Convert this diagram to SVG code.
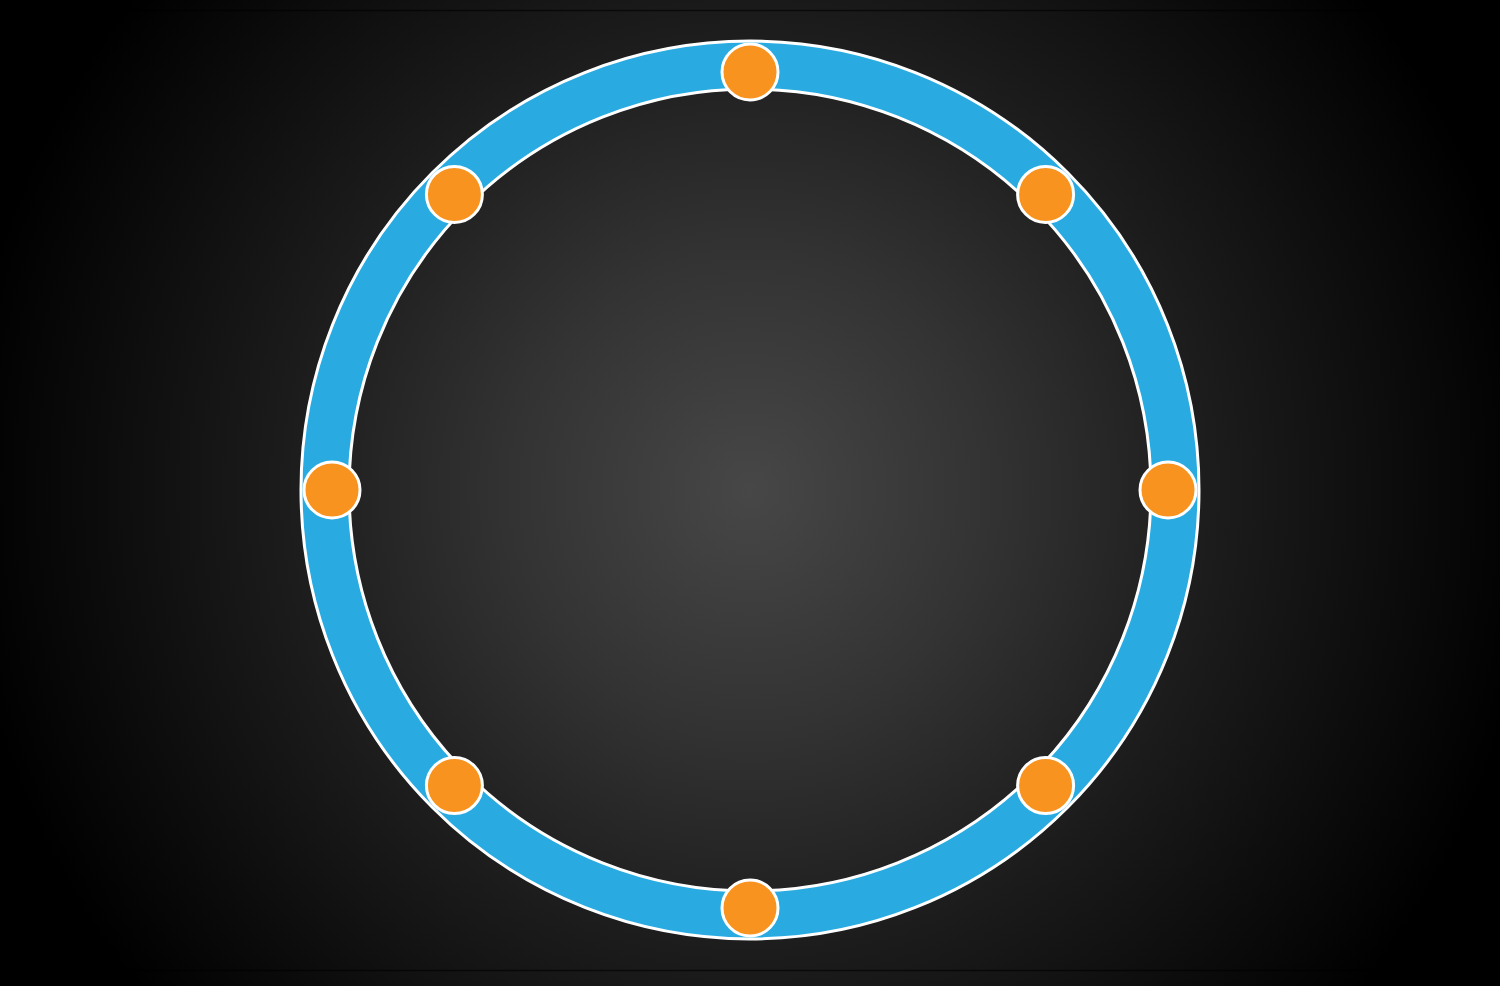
<svg xmlns="http://www.w3.org/2000/svg" width="1500" height="986" viewBox="0 0 1500 986">
  <defs>
    <radialGradient id="bg" gradientUnits="userSpaceOnUse" cx="750" cy="490" r="790">
      <stop offset="0" stop-color="#474747"/>
      <stop offset="0.3" stop-color="#333333"/>
      <stop offset="0.6" stop-color="#1b1b1b"/>
      <stop offset="0.85" stop-color="#0a0a0a"/>
      <stop offset="1" stop-color="#000000"/>
    </radialGradient>
  </defs>
  <style>
    .node { fill: #f7931e; stroke: #ffffff; stroke-width: 3; }
    .ringfill { fill: none; stroke: #29abe2; stroke-width: 48; }
    .ringedge { fill: none; stroke: #ffffff; stroke-width: 3; }
    .frame { stroke: #000000; stroke-opacity: 0.6; stroke-width: 1.5; }
  </style>
  <rect x="0" y="0" width="1500" height="986" fill="url(#bg)"/>
  <line class="frame" x1="0" y1="10.5" x2="1500" y2="10.5"/>
  <line class="frame" x1="0" y1="970.5" x2="1500" y2="970.5"/>
  <g id="connectors">
    <circle class="ringfill" cx="750" cy="490" r="425"/>
    <circle class="ringedge" cx="750" cy="490" r="449"/>
    <circle class="ringedge" cx="750" cy="490" r="401"/>
  </g>
  <g id="node-top"><circle class="node" cx="750" cy="72" r="28"/></g>
  <g id="node-top-right"><circle class="node" cx="1045.6" cy="194.4" r="28"/></g>
  <g id="node-right"><circle class="node" cx="1168" cy="490" r="28"/></g>
  <g id="node-bottom-right"><circle class="node" cx="1045.6" cy="785.6" r="28"/></g>
  <g id="node-bottom"><circle class="node" cx="750" cy="908" r="28"/></g>
  <g id="node-bottom-left"><circle class="node" cx="454.4" cy="785.6" r="28"/></g>
  <g id="node-left"><circle class="node" cx="332" cy="490" r="28"/></g>
  <g id="node-top-left"><circle class="node" cx="454.4" cy="194.4" r="28"/></g>
</svg>
